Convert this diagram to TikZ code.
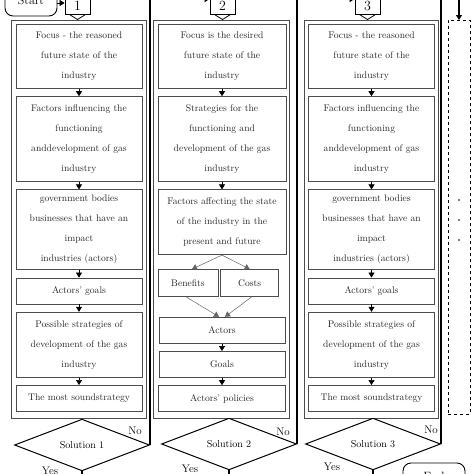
\documentclass[tikz,border=0pt]{standalone}
\usepackage{tikz}
\usetikzlibrary{arrows.meta,calc,positioning,shapes.geometric}

\begin{document}
\begin{tikzpicture}[
  x=1pt, y=1pt,
  font=\fontsize{9.6}{20}\selectfont,
  node distance=7.5pt,
  box/.style={draw=black!70, line width=.7pt, minimum width=126pt,
              align=center, text=black!85, inner sep=1pt},
  frame/.style={draw=black!70, line width=.9pt},
  numbox/.style={draw, line width=.8pt, minimum width=25pt, minimum height=16pt,
                 inner sep=0pt, font=\fontsize{14}{16}\selectfont},
  solution/.style={draw, diamond, line width=1pt, minimum width=135pt,
                   minimum height=51pt, inner sep=0pt, font=\fontsize{10}{12}\selectfont},
  terminal/.style={draw, rounded corners=8pt, line width=.9pt,
                   font=\fontsize{12}{14}\selectfont},
  arrow/.style={-{Triangle[length=5pt,width=6pt]}, line width=.6pt},
  split/.style={-{Triangle[length=5pt,width=6pt]}, draw=black!60, line width=.5pt},
  drop/.style={-{Triangle[length=6pt,width=19pt,fill=white]}, line width=.8pt},
  backline/.style={line width=1.3pt},
  answer/.style={font=\fontsize{11}{13}\selectfont, inner sep=0pt},
]
\useasboundingbox (0,0) rectangle (474,-474);
\clip (0,0) rectangle (474,-474);

% entry and column numbers
\node[terminal, minimum width=52pt, minimum height=32pt] (start) at (31,0) {Start};
\node[numbox] (num1) at (77.5,-6) {1};
\node[numbox] (num2) at (222.5,-6) {2};
\node[numbox] (num3) at (367.5,-6) {3};
\draw[arrow] ([yshift=-3pt]start.east) -- (num1.west |- 0,-3);

% column 1
\node[box, minimum height=64pt, anchor=north] (a1) at (79,-24)
 {Focus - the reasoned\\future state of the\\industry};
\node[box, minimum height=85pt, below=of a1] (a2)
 {Factors influencing the\\functioning\\anddevelopment of gas\\industry};
\node[box, minimum height=80pt, below=of a2] (a3)
 {government bodies\\businesses that have an\\impact\\industries (actors)};
\node[box, minimum height=26pt, below=of a3] (a4) {Actors' goals};
\node[box, minimum height=65pt, below=of a4] (a5)
 {Possible strategies of\\development of the gas\\industry};
\node[box, minimum height=26pt, below=of a5] (a6) {The most soundstrategy};
\draw[frame] ($(a1.north west)+(-4,4)$) rectangle ($(a6.south east)+(4,-7)$);
\coordinate (top1) at ($(a1.north)+(0,4)$);
\draw[drop] (num1) -- (num1 |- top1);
\draw[arrow] (a1) -- (a2);
\draw[arrow] (a2) -- (a3);
\draw[arrow] (a3) -- (a4);
\draw[arrow] (a4) -- (a5);
\draw[arrow] (a5) -- (a6);

% column 2
\node[box, minimum width=128pt, minimum height=64pt, anchor=north] (b1) at (222,-24)
 {Focus is the desired\\future state of the\\industry};
\node[box, minimum width=128pt, minimum height=85pt, below=of b1] (b2)
 {Strategies for the\\functioning and\\development of the gas\\industry};
\node[box, minimum width=128pt, minimum height=65pt, below=of b2] (b3)
 {Factors affecting the state\\of the industry in the\\present and future};
\node[box, minimum width=60pt, minimum height=27pt,
      below right=14pt and 0pt of b3.south west] (benefits) {Benefits};
\node[box, minimum width=58pt, minimum height=27pt, right=2pt of benefits] (costs) {Costs};
\coordinate (bc) at (benefits.south -| b3.south);
\node[box, minimum width=126pt, minimum height=26pt, below=20pt of bc] (actors) {Actors};
\node[box, minimum width=126pt, minimum height=26pt, below=of actors] (goals) {Goals};
\node[box, minimum width=127pt, minimum height=26pt, below=of goals] (policies) {Actors' policies};
\draw[frame] ($(b1.north west)+(-4,4)$) rectangle ($(policies.south east)+(4,-7)$);
\coordinate (top2) at ($(b1.north)+(0,4)$);
\draw[drop] (num2) -- (num2 |- top2);
\draw[arrow] (b1) -- (b2);
\draw[arrow] (b2) -- (b3);
\draw[split] (b3.south) -- ([xshift=4pt]benefits.north);
\draw[split] (b3.south) -- (costs.north);
\draw[split] ([xshift=-2pt]benefits.south) -- ([xshift=-3pt]actors.north);
\draw[split] ([xshift=2pt]costs.south) -- ([xshift=3pt]actors.north);
\draw[arrow] (actors) -- (goals);
\draw[arrow] (goals) -- (policies);

% column 3
\node[box, minimum height=64pt, anchor=north] (c1) at (371.5,-24)
 {Focus - the reasoned\\future state of the\\industry};
\node[box, minimum height=85pt, below=of c1] (c2)
 {Factors influencing the\\functioning\\anddevelopment of gas\\industry};
\node[box, minimum height=80pt, below=of c2] (c3)
 {government bodies\\businesses that have an\\impact\\industries (actors)};
\node[box, minimum height=26pt, below=of c3] (c4) {Actors' goals};
\node[box, minimum height=65pt, below=of c4] (c5)
 {Possible strategies of\\development of the gas\\industry};
\node[box, minimum height=26pt, below=of c5] (c6) {The most soundstrategy};
\draw[frame] ($(c1.north west)+(-4,4)$) rectangle ($(c6.south east)+(4,-7)$);
\coordinate (top3) at ($(c1.north)+(0,4)$);
\draw[drop] (num3) -- (num3 |- top3);
\draw[arrow] (c1) -- (c2);
\draw[arrow] (c2) -- (c3);
\draw[arrow] (c3) -- (c4);
\draw[arrow] (c4) -- (c5);
\draw[arrow] (c5) -- (c6);

% next column, dashed
\node[draw, dashed, line width=.6pt, minimum width=22pt, minimum height=394pt,
      anchor=north] (next) at (459,-20) {};
\foreach \y in {200,220,240} \fill (459,-\y) circle (.8pt);

% decisions
\node[solution] (dia1) at (82,-445) {Solution 1};
\node[solution] (dia2) at (229,-444) {Solution 2};
\node[solution] (dia3) at (373,-444) {Solution 3};
\node[answer] (no1) at (135,-431) {No};
\node[answer] (no2) at (283,-432) {No};
\node[answer] (no3) at (431,-430) {No};
\node[answer] (yes1) at (50,-471) {Yes};
\node[answer] (yes2) at (190,-469) {Yes};
\node[answer] (yes3) at (332,-467) {Yes};
\coordinate (down1) at ($(dia1.south)+(0,-12)$);
\coordinate (down2) at ($(dia2.south)+(0,-12)$);
\coordinate (down3) at ($(dia3.south)+(0,-12)$);
\draw[backline] (dia1.south) -- (down1);
\draw[backline] (dia2.south) -- (down2);
\draw[backline] (dia3.south) -- (down3);

% back to the next column
\draw[backline, arrow, line width=1.3pt] (dia1.east) |- (num2.west |- 0,1);
\draw[backline, arrow, line width=1.3pt] (dia2.east) |- (num3.west |- 0,1);
\coordinate (over) at ($(next.north)+(0,24)$);
\draw[backline, arrow, line width=1.3pt] (dia3.east) |- (over) -- (next.north);

\node[terminal, minimum width=62pt, minimum height=40pt, text depth=14pt] (finish)
 at (434,-483) {End};
\end{tikzpicture}
\end{document}
